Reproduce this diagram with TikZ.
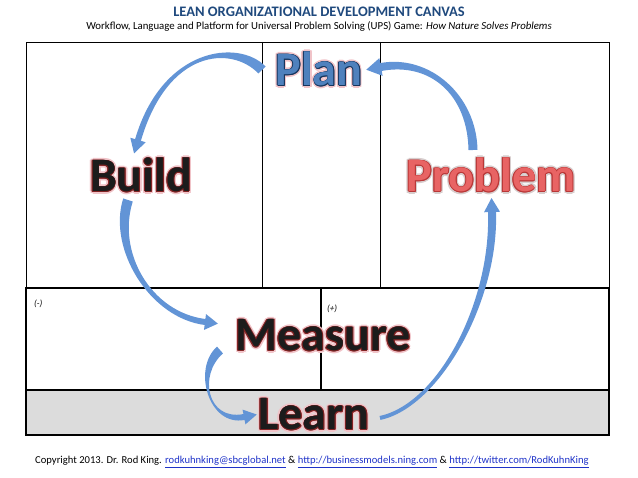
\documentclass[tikz,border=0pt]{standalone}
\usepackage{fontspec}
\setmainfont{Carlito}
\usetikzlibrary{calc}
\definecolor{titleblue}{RGB}{31,73,125}
\definecolor{arrowblue}{RGB}{98,148,214}
\definecolor{linkblue}{RGB}{30,50,200}
\definecolor{rowgray}{RGB}{220,220,220}
\definecolor{planfill}{RGB}{79,129,189}
\definecolor{planedge}{RGB}{23,54,93}
\definecolor{probfill}{RGB}{232,100,100}
\definecolor{probedge}{RGB}{185,55,55}
\definecolor{darkfill}{RGB}{28,28,28}
\definecolor{darkedge}{RGB}{130,35,35}
\definecolor{pinkglow}{RGB}{240,195,200}
\definecolor{grayglow}{RGB}{215,205,205}
\tikzset{
  word/.style={font=\fontsize{48}{48}\selectfont\bfseries, inner sep=0pt, anchor=base},
  thinline/.style={line width=0.8pt},
  thickline/.style={line width=1.8pt},
  sign/.style={font=\fontsize{9}{10}\selectfont\itshape, inner sep=0pt, anchor=base west},
  arrowfill/.style={fill=arrowblue},
}
\newcommand\glowtext[4]{%
  \foreach \a in {0,30,...,330}{\pgfmathsetmacro\dx{2.2*cos(\a)}\pgfmathsetmacro\dy{2.2*sin(\a)}%
    \rlap{\hspace*{\dx pt}\raisebox{\dy pt}{\color{#3}#4}}}%
  \foreach \a in {0,45,...,315}{\pgfmathsetmacro\dx{0.8*cos(\a)}\pgfmathsetmacro\dy{0.8*sin(\a)}%
    \rlap{\hspace*{\dx pt}\raisebox{\dy pt}{\color{#2}#4}}}%
  {\color{#1}#4}%
}
\newcommand\ribbon[8]{%
  \fill[arrowfill] ($(#1)!#5!90:(#2)$) .. controls ($(#2)!#5!-90:(#1)$) and ($(#3)!#6!90:(#4)$) .. ($(#4)!#6!-90:(#3)$)
    -- ($(#4)!#7!-90:(#3)$) -- ($(#4)!#8!180:(#3)$) -- ($(#4)!#7!90:(#3)$) -- ($(#4)!#6!90:(#3)$)
    .. controls ($(#3)!#6!-90:(#4)$) and ($(#2)!#5!90:(#1)$) .. ($(#1)!#5!-90:(#2)$) -- cycle;
}
\newcommand\lnk[1]{{\color{linkblue}\underline{#1}}}
\begin{document}
\begin{tikzpicture}[x=1pt,y=-1pt]
\useasboundingbox (0,0) rectangle (638,478);
% titles
\node[font=\fontsize{14.5}{16}\selectfont\bfseries, text=titleblue, anchor=base, inner sep=0pt] (title) at (319,17) {LEAN ORGANIZATIONAL DEVELOPMENT CANVAS};
\node[font=\fontsize{10.8}{12}\selectfont, anchor=base, inner sep=0pt] (subtitle) at (319,29.5) {Workflow, Language and Platform for Universal Problem Solving (UPS) Game: \textit{How Nature Solves Problems}};
% table
\fill[rowgray] (26,390) rectangle (609,435);
\draw[thinline] (26,42) rectangle (609,288);
\draw[thinline] (262,42) -- (262,288);
\draw[thinline] (380,42) -- (380,288);
\draw[thickline] (26,288) rectangle (609,435);
\draw[thickline] (26,390) -- (609,390);
\draw[line width=1.4pt] (321,288) -- (321,390);
\node[sign] (minus) at (34,307) {(-)};
\node[sign] (plus) at (327,312) {(+)};
% arrows
\coordinate (a1) at (262,70); \coordinate (a2) at (235,42); \coordinate (a3) at (165,48); \coordinate (a4) at (138,140);
\ribbon{a1}{a2}{a3}{a4}{5pt}{3pt}{8pt}{14pt}
\coordinate (b1) at (473,150); \coordinate (b2) at (472,95); \coordinate (b3) at (430,58); \coordinate (b4) at (381,67);
\ribbon{b1}{b2}{b3}{b4}{4.5pt}{4pt}{9pt}{15pt}
\coordinate (c1) at (128,200); \coordinate (c2) at (112,250); \coordinate (c3) at (150,315); \coordinate (c4) at (205,322);
\ribbon{c1}{c2}{c3}{c4}{5pt}{3pt}{8pt}{13pt}
\coordinate (d1) at (220,350); \coordinate (d2) at (195,372); \coordinate (d3) at (208,424); \coordinate (d4) at (244,417);
\ribbon{d1}{d2}{d3}{d4}{4.5pt}{3pt}{7.5pt}{13pt}
\coordinate (e1) at (380,418); \coordinate (e2) at (440,405); \coordinate (e3) at (495,300); \coordinate (e4) at (492,212);
\ribbon{e1}{e2}{e3}{e4}{2pt}{4pt}{8pt}{14pt}
% words
\node[word] (plan) at (319,86) {\glowtext{planfill}{planedge}{pinkglow}{Plan}};
\node[word] (build) at (141,192) {\glowtext{darkfill}{darkedge}{pinkglow}{Build}};
\node[word] (problem) at (491,192) {\glowtext{probfill}{probedge}{grayglow}{Problem}};
\node[word] (measure) at (323,351) {\glowtext{darkfill}{darkedge}{pinkglow}{Measure}};
\node[word] (learn) at (314,430) {\glowtext{darkfill}{darkedge}{pinkglow}{Learn}};
% footer
\node[font=\fontsize{10.6}{12}\selectfont, anchor=base west, inner sep=0pt] (footer) at (35,464) {Copyright 2013. Dr. Rod King. \lnk{rodkuhnking@sbcglobal.net} \& \lnk{http://businessmodels.ning.com} \& \lnk{http://twitter.com/RodKuhnKing}};
\end{tikzpicture}
\end{document}
